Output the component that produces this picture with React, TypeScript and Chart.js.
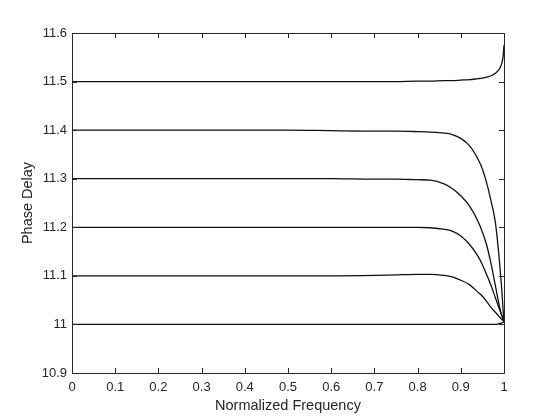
import React, { useEffect, useRef } from "react";
import { Chart, registerables } from "chart.js";

Chart.register(...registerables);

const freq = [0, 0.1, 0.2, 0.3, 0.4, 0.5, 0.6, 0.7, 0.75, 0.8, 0.83, 0.86, 0.88, 0.9, 0.92, 0.94, 0.95, 0.96, 0.97, 0.98, 0.99, 0.995, 0.998, 1];

const delay115 = [11.5, 11.5, 11.5, 11.5, 11.5, 11.5, 11.5, 11.5, 11.5, 11.501, 11.501, 11.502, 11.502, 11.503, 11.504, 11.506, 11.507, 11.509, 11.512, 11.517, 11.527, 11.538, 11.552, 11.575];
const delay114 = [11.4, 11.4, 11.4, 11.4, 11.4, 11.4, 11.399, 11.398, 11.398, 11.397, 11.396, 11.394, 11.391, 11.383, 11.368, 11.34, 11.32, 11.291, 11.254, 11.21, 11.125, 11.07, 11.03, 11.006];
const delay113 = [11.3, 11.3, 11.3, 11.3, 11.3, 11.3, 11.3, 11.299, 11.299, 11.298, 11.297, 11.29, 11.28, 11.265, 11.244, 11.212, 11.19, 11.163, 11.125, 11.08, 11.035, 11.018, 11.01, 11.006];
const delay112 = [11.2, 11.2, 11.2, 11.2, 11.2, 11.2, 11.2, 11.2, 11.2, 11.2, 11.199, 11.196, 11.192, 11.182, 11.165, 11.14, 11.123, 11.102, 11.08, 11.055, 11.03, 11.018, 11.011, 11.006];
const delay111 = [11.1, 11.1, 11.1, 11.1, 11.1, 11.1, 11.1, 11.101, 11.102, 11.103, 11.103, 11.101, 11.098, 11.091, 11.082, 11.066, 11.058, 11.047, 11.035, 11.025, 11.015, 11.01, 11.008, 11.006];
const delay110 = [11, 11, 11, 11, 11, 11, 11, 11, 11, 11, 11, 11, 11, 11, 11, 11, 11, 11, 11, 11, 11.002, 11.003, 11.004, 11.005];

const allSeries = [delay115, delay114, delay113, delay112, delay111, delay110];

const xTicks = [0, 0.1, 0.2, 0.3, 0.4, 0.5, 0.6, 0.7, 0.8, 0.9, 1];
const yTicks = [10.9, 11, 11.1, 11.2, 11.3, 11.4, 11.5, 11.6];

const AXIS = "#262626";
const FONT = "'Liberation Sans', Arial, sans-serif";

const boxPlugin = {
  id: "matlabBox",
  afterDatasetsDraw(chart: any) {
    const { ctx, chartArea } = chart;
    const { left, right, top, bottom } = chartArea;
    const xs = chart.scales.x;
    const ys = chart.scales.y;
    ctx.save();
    ctx.strokeStyle = AXIS;
    ctx.lineWidth = 1;
    ctx.beginPath();
    ctx.rect(Math.round(left) + 0.5, Math.round(top) + 0.5, Math.round(right - left), Math.round(bottom - top));
    const L = 5;
    xTicks.forEach((t) => {
      const px = Math.round(xs.getPixelForValue(t)) + 0.5;
      ctx.moveTo(px, bottom);
      ctx.lineTo(px, bottom - L);
      ctx.moveTo(px, top);
      ctx.lineTo(px, top + L);
    });
    yTicks.forEach((t) => {
      const py = Math.round(ys.getPixelForValue(t)) + 0.5;
      ctx.moveTo(left, py);
      ctx.lineTo(left + L, py);
      ctx.moveTo(right, py);
      ctx.lineTo(right - L, py);
    });
    ctx.stroke();
    ctx.restore();
  },
};

const bgPlugin = {
  id: "whiteBg",
  beforeDraw(chart: any) {
    const { ctx, width, height } = chart;
    ctx.save();
    ctx.fillStyle = "#ffffff";
    ctx.fillRect(0, 0, width, height);
    ctx.restore();
  },
};

const fmt = (v: any) => String(Number(Number(v).toFixed(1)));

export default function App() {
  const ref = useRef<HTMLCanvasElement | null>(null);
  useEffect(() => {
    if (!ref.current) return;
    const chart = new Chart(ref.current, {
      type: "line",
      data: {
        datasets: allSeries.map((s) => ({
          data: freq.map((f, i) => ({ x: f, y: s[i] })),
          borderColor: "#111111",
          borderWidth: 1.3,
          pointRadius: 0,
          fill: false,
          cubicInterpolationMode: "monotone" as const,
        })),
      },
      options: {
        responsive: false,
        animation: false,
        layout: { padding: { top: 33, right: 54, left: 0, bottom: 0 } },
        plugins: { legend: { display: false }, tooltip: { enabled: false } },
        scales: {
          x: {
            type: "linear",
            min: 0,
            max: 1,
            afterBuildTicks: (scale: any) => {
              scale.ticks = xTicks.map((v) => ({ value: v }));
            },
            afterFit: (scale: any) => {
              scale.height = 44;
            },
            grid: { display: false, drawTicks: false },
            border: { display: false },
            ticks: {
              callback: fmt,
              padding: 7,
              color: AXIS,
              font: { family: FONT, size: 13 },
              maxRotation: 0,
              autoSkip: false,
            },
            title: {
              display: true,
              text: "Normalized Frequency",
              color: AXIS,
              font: { family: FONT, size: 14.5 },
              padding: { top: 0, bottom: 2 },
            },
          },
          y: {
            type: "linear",
            min: 10.9,
            max: 11.6,
            afterBuildTicks: (scale: any) => {
              scale.ticks = yTicks.map((v) => ({ value: v }));
            },
            afterFit: (scale: any) => {
              scale.width = 72;
            },
            grid: { display: false, drawTicks: false },
            border: { display: false },
            ticks: {
              callback: fmt,
              padding: 5,
              color: AXIS,
              font: { family: FONT, size: 13 },
              autoSkip: false,
            },
            title: {
              display: true,
              text: "Phase Delay",
              color: AXIS,
              font: { family: FONT, size: 14.5 },
              padding: { top: 19, bottom: 0 },
            },
          },
        },
      },
      plugins: [bgPlugin, boxPlugin],
    });
    return () => chart.destroy();
  }, []);
  return (
    <div style={{ position: "absolute", left: 0, top: 0, width: 558, height: 417, background: "#fff" }}>
      <canvas ref={ref} width={558} height={417} style={{ display: "block" }} />
    </div>
  );
}
